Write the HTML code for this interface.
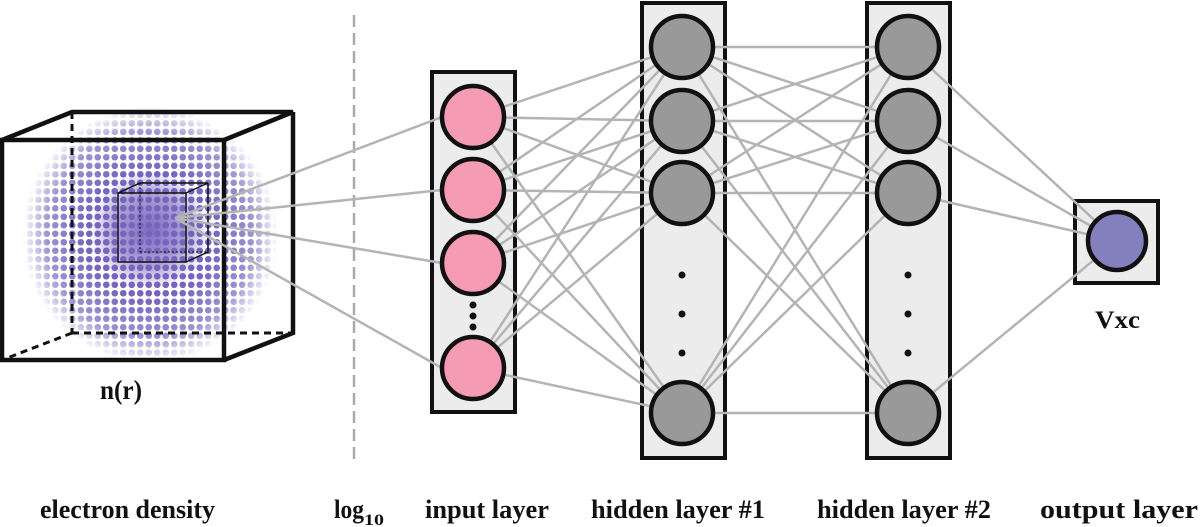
<!DOCTYPE html>
<html><head><meta charset="utf-8"><style>
html,body{margin:0;padding:0;background:#fff;}
svg{display:block;}
text{font-family:"Liberation Serif","Times New Roman",serif;font-weight:bold;fill:#111;}
</style></head><body>
<svg width="1200" height="527" viewBox="0 0 1200 527" xmlns="http://www.w3.org/2000/svg">
<defs>
<pattern id="dots" width="8.5" height="8.5" patternUnits="userSpaceOnUse">
<circle cx="4.25" cy="4.25" r="3.3" fill="#7565bd"/>
</pattern>
<radialGradient id="rg" cx="150" cy="235" r="128" gradientUnits="userSpaceOnUse">
<stop offset="0" stop-color="#fff"/>
<stop offset="0.5" stop-color="#fff" stop-opacity="1"/>
<stop offset="0.8" stop-color="#fff" stop-opacity="0.7"/>
<stop offset="1" stop-color="#fff" stop-opacity="0"/>
</radialGradient>
<mask id="m"><rect x="0" y="0" width="400" height="450" fill="url(#rg)"/></mask>
<radialGradient id="core" cx="150" cy="230" r="60" gradientUnits="userSpaceOnUse">
<stop offset="0" stop-color="#7565bd" stop-opacity="0.95"/>
<stop offset="0.6" stop-color="#7565bd" stop-opacity="0.6"/>
<stop offset="1" stop-color="#7565bd" stop-opacity="0"/>
</radialGradient>
</defs>

<rect x="0" y="100" width="300" height="270" fill="url(#dots)" mask="url(#m)"/>
<circle cx="150" cy="230" r="60" fill="url(#core)"/>

<g stroke="#111" stroke-width="3" fill="none" stroke-dasharray="7,5">
<line x1="72" y1="112" x2="72" y2="333"/>
<line x1="72" y1="333" x2="293" y2="333"/>
<line x1="72" y1="333" x2="2" y2="360"/>
</g>
<g stroke="#111" stroke-width="4.5" fill="none" stroke-linejoin="miter">
<rect x="2" y="140" width="222" height="220"/>
<polyline points="2,140 72,112 293,112 224,140"/>
<polyline points="293,112 293,333 224,360"/>
</g>
<g stroke="#111" stroke-width="1.5" fill="none">
<rect x="118" y="193" width="68" height="69"/>
<polyline points="118,193 140,183 208,183 186,193"/>
<polyline points="208,183 208,252 186,262"/>
</g>
<g stroke="#111" stroke-width="1" fill="none" stroke-dasharray="2,2">
<line x1="140" y1="183" x2="140" y2="252"/>
<line x1="140" y1="252" x2="208" y2="252"/>
</g>

<line x1="354" y1="15" x2="354" y2="465" stroke="#aaa" stroke-width="2.5" stroke-dasharray="12,6"/>

<g stroke="#111" stroke-width="4" fill="#ececec">
<rect x="432" y="72" width="83" height="340"/>
<rect x="642" y="3" width="83" height="455"/>
<rect x="867" y="3" width="83" height="455"/>
<rect x="1075" y="201" width="83" height="82"/>
</g>

<g stroke="#b4b4b4" stroke-width="2.5" fill="none">
<line x1="175" y1="218" x2="442" y2="117"/>
<line x1="175" y1="218" x2="442" y2="190"/>
<line x1="175" y1="218" x2="442" y2="263"/>
<line x1="175" y1="218" x2="442" y2="368"/>
<path d="M473,117L682,47M473,117L682,121M473,117L682,193M473,117L682,413
M473,190L682,47M473,190L682,121M473,190L682,193M473,190L682,413
M473,263L682,47M473,263L682,121M473,263L682,193M473,263L682,413
M473,368L682,47M473,368L682,121M473,368L682,193M473,368L682,413"/>
<path d="M682,47L908,47M682,47L908,121M682,47L908,193M682,47L908,413
M682,121L908,47M682,121L908,121M682,121L908,193M682,121L908,413
M682,193L908,47M682,193L908,121M682,193L908,193M682,193L908,413
M682,413L908,47M682,413L908,121M682,413L908,193M682,413L908,413"/>
<path d="M908,47L1117,241M908,121L1117,241M908,193L1117,241M908,413L1117,241"/>
</g>

<g stroke="#111" stroke-width="4.5">
<g fill="#f59bb3">
<circle cx="473" cy="117" r="31"/>
<circle cx="473" cy="190" r="31"/>
<circle cx="473" cy="263" r="31"/>
<circle cx="473" cy="368" r="31"/>
</g>
<g fill="#999">
<circle cx="682" cy="47" r="31"/>
<circle cx="682" cy="121" r="31"/>
<circle cx="682" cy="193" r="31"/>
<circle cx="682" cy="413" r="31"/>
<circle cx="908" cy="47" r="31"/>
<circle cx="908" cy="121" r="31"/>
<circle cx="908" cy="193" r="31"/>
<circle cx="908" cy="413" r="31"/>
</g>
<circle cx="1117" cy="241" r="29" fill="#8480bd"/>
</g>

<g fill="#111">
<circle cx="473" cy="305" r="3.5"/><circle cx="473" cy="316" r="3.5"/><circle cx="473" cy="327" r="3.5"/>
<circle cx="682" cy="275" r="3.5"/><circle cx="682" cy="314" r="3.5"/><circle cx="682" cy="353" r="3.5"/>
<circle cx="908" cy="275" r="3.5"/><circle cx="908" cy="314" r="3.5"/><circle cx="908" cy="353" r="3.5"/>
</g>

<text x="100" y="399" font-size="27" textLength="42" lengthAdjust="spacingAndGlyphs">n(r)</text>
<text x="1095" y="328" font-size="25" textLength="45" lengthAdjust="spacingAndGlyphs">Vxc</text>
<g font-size="26">
<text x="40" y="518" textLength="175" lengthAdjust="spacingAndGlyphs">electron density</text>
<text x="334" y="518" textLength="30" lengthAdjust="spacingAndGlyphs">log</text>
<text x="364" y="525" font-size="16" textLength="20" lengthAdjust="spacingAndGlyphs">10</text>
<text x="425" y="518" textLength="124" lengthAdjust="spacingAndGlyphs">input layer</text>
<text x="591" y="518" textLength="174" lengthAdjust="spacingAndGlyphs">hidden layer #1</text>
<text x="817" y="518" textLength="174" lengthAdjust="spacingAndGlyphs">hidden layer #2</text>
<text x="1040" y="518" textLength="158" lengthAdjust="spacingAndGlyphs">output layer</text>
</g>
</svg>
</body></html>
